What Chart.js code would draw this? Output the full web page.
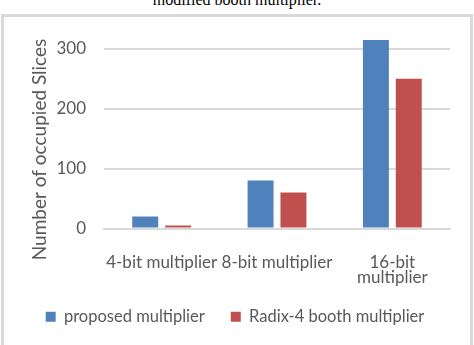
<!DOCTYPE html>
<html>
<head>
<meta charset="utf-8">
<script src="https://cdn.jsdelivr.net/npm/chart.js@4"></script>
<style>
  body { margin: 0; width: 474px; height: 345px; overflow: hidden; background: #fff; position: relative; }
  #cap { position: absolute; left: 0; width: 474px; top: -9px; text-align: center;
         font-family: "Liberation Serif", serif; font-size: 16px; color: #000; }
  #frame { position: absolute; left: 1px; top: 14px; width: 466px; height: 340px;
           border: 3px solid #d9d9d9; background: #fff; }
  #chart { display: block; }
</style>
</head>
<body>
<div id="cap">modified booth multiplier.</div>
<div id="frame"><canvas id="chart" width="466" height="328"></canvas></div>
<script>
const categories = ['4-bit multiplier', '8-bit multiplier', ['16-bit', 'multiplier']];
const proposed = [20, 80, 315];
const radix4 = [5, 60, 250];
const yTicks = [0, 100, 200, 300];
const yTitle = 'Number of occupied Slices';

const grey = '#595959';
const family = 'Lato, "Open Sans", sans-serif';

// axis title drawn a bit lower than Chart.js would centre it (as in the Excel original)
const yTitlePlugin = {
    id: 'yTitle',
    afterDraw(chart) {
        const c = chart.ctx, a = chart.chartArea;
        c.save();
        c.translate(36, a.bottom - 79);
        c.rotate(-Math.PI / 2);
        c.font = '19px ' + family;
        c.fillStyle = grey;
        c.textAlign = 'center';
        c.textBaseline = 'middle';
        c.fillText(yTitle, 0, 0);
        c.restore();
    }
};

// nudge the legend right and up, keeps one row
const legendShift = {
    id: 'legendShift',
    afterLayout(chart) {
        chart.legend.left += 4;
        chart.legend.right += 4;
        chart.legend.top -= 6;
        chart.legend.bottom -= 6;
    }
};

const ctx = document.getElementById('chart').getContext('2d');
const chart = new Chart(ctx, {
    type: 'bar',
    data: {
        labels: categories,
        datasets: [{
            label: 'proposed multiplier',
            data: proposed,
            backgroundColor: '#4f81bd'
        }, {
            label: 'Radix-4 booth multiplier',
            data: radix4,
            backgroundColor: '#c0504d'
        }]
    },
    plugins: [yTitlePlugin, legendShift],
    options: {
        responsive: false,
        animation: false,
        categoryPercentage: 0.57,
        barPercentage: 0.79,
        layout: { padding: { top: 2, right: 20, left: 8, bottom: 4 } },
        plugins: {
            tooltip: { enabled: false },
            legend: {
                position: 'bottom',
                labels: {
                    color: grey,
                    font: { family: family, size: 16.5 },
                    boxWidth: 10,
                    boxHeight: 10,
                    padding: 26
                }
            }
        },
        scales: {
            x: {
                afterFit: axis => { axis.height = 60; },
                grid: { display: false, drawTicks: false },
                border: { color: '#d9d9d9', width: 2 },
                ticks: { color: grey, font: { family: family, size: 17, lineHeight: 0.85 },
                         maxRotation: 0, autoSkip: false, padding: 27 }
            },
            y: {
                min: 0,
                max: 350,
                afterBuildTicks: axis => { axis.ticks = yTicks.map(v => ({ value: v })); },
                afterFit: axis => { axis.paddingTop = 0; axis.paddingBottom = 0; axis.width = 92; },
                grid: { color: '#d9d9d9', lineWidth: 2, drawTicks: false },
                border: { display: false },
                ticks: { color: grey, font: { family: family, size: 17 }, padding: 18 }
            }
        }
    }
});
</script>
</body>
</html>
